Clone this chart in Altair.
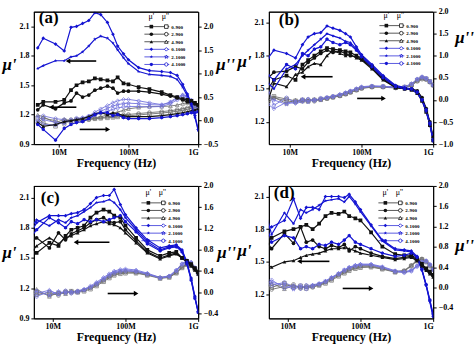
import altair as alt
import pandas as pd

SERIF = "Liberation Serif, Times New Roman, DejaVu Serif, serif"
FREQ_MHZ = [5, 6, 9, 12, 15, 18, 22, 27, 33, 40, 50, 60, 70, 85, 100, 140, 200, 300, 400, 500, 600, 700, 800, 900, 1000]
SERIES = ["0-900", "2-900", "4-900", "0-1000", "2-1000", "4-1000"]

# ---- panel (a) ----
A_MU1 = [
    [1.30, 1.33, 1.33, 1.35, 1.45, 1.50, 1.53, 1.54, 1.57, 1.56, 1.55, 1.54, 1.58, 1.52, 1.51, 1.48, 1.46, 1.43, 1.40, 1.38, 1.36, 1.35, 1.34, 1.32, 1.30],
    [1.25, 1.30, 1.26, 1.32, 1.34, 1.42, 1.38, 1.40, 1.45, 1.47, 1.49, 1.47, 1.42, 1.44, 1.44, 1.44, 1.43, 1.41, 1.39, 1.37, 1.35, 1.33, 1.32, 1.31, 1.30],
    [1.12, 1.08, 1.10, 1.13, 1.14, 1.15, 1.16, 1.18, 1.21, 1.22, 1.20, 1.22, 1.21, 1.19, 1.18, 1.18, 1.18, 1.19, 1.20, 1.21, 1.22, 1.23, 1.24, 1.25, 1.26],
    [1.88, 1.98, 1.92, 1.85, 2.09, 2.10, 2.13, 2.16, 2.24, 2.22, 2.14, 2.02, 1.90, 1.82, 1.76, 1.68, 1.65, 1.64, 1.63, 1.60, 1.51, 1.41, 1.31, 1.19, 1.05],
    [1.67, 1.70, 1.75, 1.75, 1.79, 1.80, 1.84, 1.90, 1.97, 2.00, 1.98, 1.93, 1.86, 1.78, 1.72, 1.64, 1.61, 1.60, 1.59, 1.56, 1.48, 1.39, 1.29, 1.17, 1.04],
    [1.10, 1.05, 0.94, 1.06, 1.10, 1.12, 1.13, 1.16, 1.20, 1.22, 1.22, 1.19, 1.20, 1.17, 1.16, 1.16, 1.16, 1.17, 1.18, 1.19, 1.20, 1.21, 1.22, 1.22, 1.23],
]
A_MU2 = [
    [0.05, -0.05, -0.12, 0.00, -0.02, 0.02, 0.00, 0.03, 0.04, 0.05, 0.06, 0.07, 0.08, 0.09, 0.10, 0.12, 0.14, 0.16, 0.18, 0.20, 0.22, 0.24, 0.26, 0.28, 0.30],
    [-0.05, 0.05, 0.00, -0.08, 0.02, -0.02, 0.03, 0.02, 0.05, 0.06, 0.08, 0.09, 0.10, 0.12, 0.13, 0.15, 0.17, 0.19, 0.21, 0.23, 0.25, 0.27, 0.29, 0.30, 0.32],
    [0.12, 0.08, -0.05, 0.03, 0.00, 0.04, 0.02, 0.05, 0.06, 0.08, 0.12, 0.15, 0.18, 0.22, 0.25, 0.28, 0.30, 0.30, 0.31, 0.33, 0.36, 0.38, 0.36, 0.32, 0.28],
    [0.00, -0.08, -0.10, -0.02, 0.00, 0.03, 0.05, 0.10, 0.18, 0.25, 0.32, 0.38, 0.42, 0.45, 0.45, 0.42, 0.38, 0.34, 0.38, 0.48, 0.53, 0.50, 0.42, 0.32, 0.22],
    [0.08, 0.02, -0.04, -0.06, 0.02, 0.00, 0.04, 0.08, 0.14, 0.20, 0.26, 0.31, 0.34, 0.36, 0.37, 0.36, 0.34, 0.33, 0.40, 0.50, 0.55, 0.52, 0.44, 0.34, 0.24],
    [-0.02, 0.10, 0.04, 0.02, -0.03, 0.05, 0.06, 0.09, 0.12, 0.16, 0.20, 0.24, 0.27, 0.29, 0.30, 0.30, 0.29, 0.30, 0.36, 0.44, 0.48, 0.46, 0.38, 0.30, 0.22],
]
# ---- panel (b) ----
B_MU1 = [
    [1.50, 1.58, 1.62, 1.58, 1.72, 1.76, 1.80, 1.84, 1.87, 1.86, 1.85, 1.84, 1.83, 1.80, 1.78, 1.70, 1.60, 1.52, 1.50, 1.49, 1.46, 1.39, 1.29, 1.17, 1.03],
    [1.60, 1.65, 1.66, 1.70, 1.68, 1.74, 1.78, 1.82, 1.85, 1.83, 1.84, 1.82, 1.80, 1.79, 1.77, 1.69, 1.59, 1.51, 1.50, 1.50, 1.48, 1.42, 1.32, 1.20, 1.06],
    [1.40, 1.55, 1.52, 1.63, 1.65, 1.70, 1.73, 1.72, 1.80, 1.85, 1.82, 1.80, 1.81, 1.78, 1.76, 1.68, 1.58, 1.51, 1.50, 1.50, 1.48, 1.41, 1.31, 1.19, 1.05],
    [1.78, 1.85, 1.82, 1.78, 1.90, 1.97, 2.00, 2.01, 2.07, 2.05, 2.03, 2.00, 1.97, 1.88, 1.81, 1.72, 1.62, 1.53, 1.51, 1.50, 1.47, 1.40, 1.30, 1.18, 1.03],
    [1.55, 1.50, 1.68, 1.72, 1.80, 1.85, 1.90, 1.95, 2.00, 1.98, 1.96, 1.93, 1.92, 1.86, 1.80, 1.71, 1.61, 1.52, 1.50, 1.49, 1.46, 1.39, 1.29, 1.17, 1.02],
    [1.62, 1.58, 1.72, 1.68, 1.82, 1.80, 1.86, 1.88, 1.95, 1.92, 1.90, 1.92, 1.90, 1.85, 1.79, 1.70, 1.60, 1.52, 1.50, 1.50, 1.47, 1.40, 1.31, 1.19, 1.04],
]
B_MU2 = [
    [0.05, 0.08, 0.02, -0.02, 0.00, -0.03, 0.00, 0.02, 0.04, 0.07, 0.10, 0.14, 0.18, 0.23, 0.27, 0.30, 0.30, 0.28, 0.29, 0.35, 0.45, 0.50, 0.48, 0.42, 0.34],
    [-0.05, 0.05, -0.02, -0.05, -0.01, 0.01, -0.03, 0.01, 0.03, 0.06, 0.09, 0.13, 0.17, 0.22, 0.26, 0.29, 0.29, 0.27, 0.28, 0.33, 0.42, 0.47, 0.46, 0.40, 0.33],
    [0.00, 0.06, -0.08, 0.00, -0.03, -0.02, 0.02, 0.00, 0.04, 0.06, 0.10, 0.14, 0.18, 0.23, 0.27, 0.30, 0.30, 0.28, 0.29, 0.34, 0.44, 0.49, 0.47, 0.41, 0.34],
    [-0.10, -0.20, -0.05, -0.08, -0.04, 0.00, -0.02, 0.03, 0.05, 0.09, 0.13, 0.17, 0.21, 0.26, 0.30, 0.32, 0.31, 0.29, 0.30, 0.37, 0.48, 0.53, 0.50, 0.43, 0.35],
    [0.15, 0.00, -0.10, -0.03, 0.02, -0.05, 0.01, 0.00, 0.06, 0.08, 0.12, 0.16, 0.20, 0.25, 0.29, 0.31, 0.30, 0.28, 0.29, 0.36, 0.47, 0.52, 0.49, 0.42, 0.34],
    [0.20, -0.12, 0.05, -0.06, -0.02, 0.02, -0.01, 0.04, 0.05, 0.07, 0.11, 0.15, 0.19, 0.24, 0.28, 0.31, 0.31, 0.29, 0.30, 0.36, 0.46, 0.51, 0.48, 0.41, 0.33],
]
# ---- panel (c) ----
C_MU1 = [
    [1.60, 1.55, 1.65, 1.62, 1.72, 1.78, 1.80, 1.82, 1.90, 1.95, 1.98, 1.96, 1.92, 1.90, 1.82, 1.70, 1.58, 1.52, 1.55, 1.56, 1.50, 1.47, 1.44, 1.40, 1.36],
    [1.65, 1.70, 1.60, 1.75, 1.68, 1.74, 1.77, 1.80, 1.85, 1.88, 1.90, 1.86, 1.85, 1.86, 1.78, 1.67, 1.56, 1.50, 1.53, 1.55, 1.50, 1.46, 1.43, 1.39, 1.35],
    [1.55, 1.62, 1.70, 1.64, 1.70, 1.72, 1.75, 1.78, 1.82, 1.84, 1.86, 1.84, 1.83, 1.80, 1.75, 1.65, 1.55, 1.49, 1.52, 1.54, 1.50, 1.46, 1.42, 1.38, 1.34],
    [1.75, 1.85, 1.92, 1.92, 1.92, 1.94, 1.95, 1.98, 2.04, 2.10, 2.12, 2.12, 2.18, 2.03, 1.93, 1.80, 1.68, 1.60, 1.62, 1.63, 1.58, 1.46, 1.30, 1.12, 0.97],
    [1.80, 1.88, 1.82, 1.88, 1.85, 1.90, 1.92, 1.96, 2.00, 2.05, 2.06, 2.08, 2.05, 1.98, 1.90, 1.78, 1.66, 1.58, 1.61, 1.62, 1.57, 1.45, 1.29, 1.11, 0.96],
    [1.70, 1.78, 1.90, 1.85, 1.80, 1.86, 1.84, 1.88, 1.86, 1.88, 1.86, 1.88, 1.90, 1.92, 1.86, 1.76, 1.64, 1.57, 1.60, 1.61, 1.56, 1.44, 1.28, 1.10, 0.96],
]
C_MU2 = [
    [0.02, 0.00, -0.05, -0.02, 0.00, 0.02, 0.00, 0.02, 0.06, 0.12, 0.20, 0.27, 0.32, 0.35, 0.36, 0.36, 0.32, 0.26, 0.28, 0.36, 0.46, 0.52, 0.50, 0.44, 0.38],
    [0.05, -0.05, 0.00, -0.06, 0.02, -0.01, 0.02, 0.04, 0.08, 0.14, 0.22, 0.29, 0.34, 0.37, 0.38, 0.37, 0.33, 0.27, 0.29, 0.37, 0.47, 0.53, 0.51, 0.45, 0.39],
    [-0.05, 0.06, -0.08, 0.00, -0.03, 0.03, 0.01, 0.05, 0.10, 0.16, 0.24, 0.31, 0.36, 0.39, 0.40, 0.39, 0.34, 0.28, 0.30, 0.38, 0.48, 0.54, 0.52, 0.46, 0.40],
    [0.08, -0.02, 0.04, -0.04, 0.01, 0.00, 0.03, 0.06, 0.12, 0.19, 0.28, 0.35, 0.40, 0.43, 0.44, 0.42, 0.36, 0.28, 0.31, 0.42, 0.54, 0.60, 0.57, 0.47, 0.36],
    [-0.08, 0.03, -0.06, 0.02, -0.02, 0.01, 0.02, 0.05, 0.10, 0.17, 0.26, 0.33, 0.38, 0.41, 0.42, 0.40, 0.35, 0.27, 0.30, 0.41, 0.53, 0.59, 0.56, 0.46, 0.35],
    [0.00, -0.08, 0.02, -0.03, 0.03, -0.02, 0.00, 0.04, 0.09, 0.15, 0.24, 0.31, 0.36, 0.39, 0.40, 0.39, 0.34, 0.27, 0.30, 0.40, 0.52, 0.58, 0.55, 0.45, 0.34],
]
# ---- panel (d) ----
D_MU1 = [
    [1.75, 1.72, 1.78, 1.80, 1.82, 1.84, 1.80, 1.85, 1.92, 1.95, 1.94, 1.96, 1.92, 1.90, 1.88, 1.77, 1.64, 1.57, 1.56, 1.56, 1.53, 1.48, 1.44, 1.41, 1.38],
    [1.70, 1.62, 1.76, 1.67, 1.82, 1.68, 1.70, 1.64, 1.62, 1.65, 1.63, 1.66, 1.60, 1.64, 1.62, 1.58, 1.55, 1.53, 1.54, 1.55, 1.52, 1.47, 1.43, 1.40, 1.37],
    [1.48, 1.45, 1.50, 1.51, 1.54, 1.56, 1.57, 1.58, 1.60, 1.62, 1.62, 1.63, 1.62, 1.60, 1.58, 1.56, 1.54, 1.52, 1.53, 1.54, 1.51, 1.46, 1.42, 1.39, 1.36],
    [1.82, 1.82, 1.88, 2.08, 1.90, 2.00, 2.00, 1.98, 2.10, 2.10, 2.10, 2.09, 2.12, 2.05, 1.98, 1.84, 1.70, 1.62, 1.61, 1.60, 1.55, 1.43, 1.29, 1.14, 1.00],
    [1.95, 1.75, 1.95, 1.85, 1.98, 1.95, 1.98, 2.02, 2.06, 2.07, 2.08, 2.05, 2.10, 2.03, 1.96, 1.83, 1.69, 1.61, 1.60, 1.59, 1.54, 1.42, 1.28, 1.13, 0.99],
    [1.85, 1.68, 1.74, 1.72, 1.62, 1.64, 1.62, 1.66, 1.65, 1.68, 1.66, 1.70, 1.74, 1.68, 1.66, 1.62, 1.58, 1.55, 1.56, 1.58, 1.54, 1.43, 1.29, 1.15, 1.02],
]
D_MU2 = [
    [0.05, 0.00, 0.08, 0.00, 0.03, -0.02, 0.02, 0.04, 0.08, 0.14, 0.22, 0.28, 0.33, 0.37, 0.39, 0.40, 0.36, 0.30, 0.32, 0.42, 0.52, 0.55, 0.50, 0.42, 0.36],
    [0.12, -0.04, 0.02, 0.06, -0.02, 0.03, 0.00, 0.05, 0.10, 0.16, 0.24, 0.30, 0.35, 0.39, 0.41, 0.41, 0.37, 0.31, 0.33, 0.43, 0.53, 0.56, 0.51, 0.43, 0.37],
    [-0.02, 0.08, -0.03, 0.03, 0.00, 0.01, 0.04, 0.06, 0.11, 0.18, 0.26, 0.32, 0.37, 0.41, 0.43, 0.43, 0.38, 0.31, 0.33, 0.44, 0.54, 0.57, 0.52, 0.44, 0.38],
    [0.08, 0.15, -0.02, 0.04, -0.03, 0.05, 0.03, 0.07, 0.12, 0.19, 0.27, 0.34, 0.39, 0.43, 0.45, 0.45, 0.40, 0.32, 0.30, 0.33, 0.42, 0.50, 0.52, 0.45, 0.35],
    [0.00, 0.10, 0.05, -0.04, 0.02, 0.00, 0.05, 0.08, 0.13, 0.20, 0.28, 0.35, 0.40, 0.44, 0.46, 0.46, 0.41, 0.33, 0.31, 0.34, 0.43, 0.51, 0.53, 0.46, 0.36],
    [0.18, 0.04, 0.10, 0.01, 0.04, -0.03, 0.02, 0.06, 0.11, 0.18, 0.26, 0.33, 0.38, 0.42, 0.44, 0.44, 0.39, 0.31, 0.29, 0.32, 0.41, 0.49, 0.51, 0.44, 0.34],
]

# arrows: start freq, end freq (Hz), mu' level, direction
A_ARROWS = ([13.6e6, 7.85e6, 20e6], [34.5e6, 17.9e6, 50.6e6], [1.747, 1.276, 1.05], ["left", "left", "right"])
B_ARROWS = ([15.3e6, 87e6], [39.5e6, 203e6], [1.609, 1.412], ["left", "right"])
C_ARROWS = ([20.9e6, 57e6], [60.2e6, 140e6], [1.656, 1.147], ["left", "right"])
D_ARROWS = ([14.5e6, 57e6], [37.4e6, 140e6], [1.504, 1.255], ["left", "right"])

STAR = "M0,-1L0.235,-0.324L0.951,-0.309L0.380,0.124L0.588,0.809L0,0.4L-0.588,0.809L-0.380,0.124L-0.951,-0.309L-0.235,-0.324Z"
HEX = "M0,-1L0.866,-0.5L0.866,0.5L0,1L-0.866,0.5L-0.866,-0.5Z"
SHAPES = ["square", "circle", "triangle-up", "diamond", STAR, HEX]
COL1 = ["#111111", "#111111", "#111111", "#1414d2", "#1414d2", "#1414d2"]
COL2 = ["#707070", "#707070", "#707070", "#7474dc", "#7474dc", "#7474dc"]
W, H = 165, 133


def to_long(values):
    rows = []
    for s, vals in zip(SERIES, values):
        for f, v in zip(FREQ_MHZ, vals):
            rows.append({"f": f * 1e6, "v": v, "s": s})
    return pd.DataFrame(rows)


def panel(mu1, mu2, xdom, yd1, yt1, yd2, yt2, label, lab_xy, leg_xy, arrows, t1y, t2x, t2y):
    xs = alt.Scale(type="log", domain=xdom, nice=False)
    xax = alt.Axis(values=[1e7, 1e8, 1e9],
                   labelExpr="datum.value < 5e7 ? '10M' : datum.value < 5e8 ? '100M' : '1G'",
                   title="Frequency (Hz)", titleFontSize=12, titlePadding=1,
                   labelFont=SERIF, titleFont=SERIF, labelFontWeight="bold", titleFontWeight="bold",
                   labelFontSize=8, tickSize=3, labelPadding=1, grid=False)

    def X(field):
        return alt.X(field, type="quantitative", scale=xs, axis=xax)

    y1s = alt.Scale(domain=yd1, nice=False, zero=False)
    y1ax = alt.Axis(values=yt1, format=".1f", title="μ'", titleAngle=0, titleX=-25, titleY=t1y,
                    titleAlign="center", titleBaseline="middle", titleFontSize=17,
                    labelFont=SERIF, titleFont=SERIF, labelFontWeight="bold", titleFontWeight="bold",
                    titleFontStyle="italic", labelFontSize=8, tickSize=3, labelPadding=2, grid=False)
    y2s = alt.Scale(domain=yd2, nice=False, zero=False)
    y2ax = alt.Axis(values=yt2, format=".1f", orient="right", title="μ''", titleAngle=0,
                    titleX=t2x, titleY=t2y, titleAlign="center", titleBaseline="middle",
                    labelFont=SERIF, titleFont=SERIF, labelFontWeight="bold", titleFontWeight="bold",
                    titleFontSize=17, titleFontStyle="italic", labelFontSize=8, tickSize=3,
                    labelPadding=2, grid=False)

    def Y1(field):
        return alt.Y(field, type="quantitative", scale=y1s, axis=y1ax)

    def Y2(field):
        return alt.Y(field, type="quantitative", scale=y2s, axis=y2ax)

    d1 = to_long(mu1)
    d2 = to_long(mu2)
    c1 = alt.Scale(domain=SERIES, range=COL1)
    c2 = alt.Scale(domain=SERIES, range=COL2)
    sh = alt.Scale(domain=SERIES, range=SHAPES)

    line1 = alt.Chart(d1).mark_line(strokeWidth=1.2, clip=True).encode(
        x=X("f"), y=Y1("v"), stroke=alt.Stroke("s:N", scale=c1, legend=None))
    pts1 = alt.Chart(d1).mark_point(filled=True, size=14, opacity=1, clip=True).encode(
        x=X("f"), y=Y1("v"),
        color=alt.Color("s:N", scale=c1, legend=None),
        shape=alt.Shape("s:N", scale=sh, legend=None))

    adf = pd.DataFrame({"f": arrows[0], "f2": arrows[1], "v": arrows[2], "d": arrows[3]})
    arr_line = alt.Chart(adf).mark_rule(color="black", strokeWidth=1.6).encode(
        x=X("f"), x2="f2", y=Y1("v"))
    arr_left = alt.Chart(adf).transform_filter("datum.d == 'left'").mark_point(
        shape="triangle-left", filled=True, color="black", size=28, opacity=1).encode(x=X("f"), y=Y1("v"))
    arr_right = alt.Chart(adf).transform_filter("datum.d == 'right'").mark_point(
        shape="triangle-right", filled=True, color="black", size=28, opacity=1).encode(x=X("f2"), y=Y1("v"))

    ltxt = alt.Chart(pd.DataFrame({"t": [label]})).mark_text(
        font=SERIF, fontSize=17, fontWeight="bold", align="left", baseline="middle", color="black").encode(
        x=alt.value(lab_xy[0]), y=alt.value(lab_xy[1]), text="t:N")

    top_edge = alt.Chart(pd.DataFrame({"t": [0]})).mark_rule(color="black", strokeWidth=1).encode(
        x=alt.value(0), x2=alt.value(W), y=alt.value(0.5))

    # in-plot key: filled (mu') and open (mu'') symbols with the series names
    lx, ly = leg_xy
    key = pd.DataFrame({"s": SERIES})
    key["py"] = [ly + i * 7.6 for i in range(len(SERIES))]
    key["xf"] = lx
    key["xo"] = lx + 15
    key["xa"] = lx - 7
    key["xb"] = lx + 18
    key["xt"] = lx + 20

    def PX(field):
        return alt.X(field, type="quantitative", scale=None)

    PY = alt.Y("py:Q", scale=None)
    key_seg = alt.Chart(key).mark_rule(strokeWidth=0.7).encode(
        x=PX("xa"), x2="xb", y=PY, color=alt.Color("s:N", scale=c1, legend=None))
    key_f = alt.Chart(key).mark_point(filled=True, size=13, opacity=1).encode(
        x=PX("xf"), y=PY, color=alt.Color("s:N", scale=c1, legend=None),
        shape=alt.Shape("s:N", scale=sh, legend=None))
    key_o = alt.Chart(key).mark_point(filled=False, size=13, opacity=1, strokeWidth=0.8).encode(
        x=PX("xo"), y=PY, fill=alt.value("white"), color=alt.Color("s:N", scale=c1, legend=None),
        shape=alt.Shape("s:N", scale=sh, legend=None))
    key_t = alt.Chart(key).mark_text(font=SERIF, fontSize=5, fontWeight="bold", align="left",
                                     baseline="middle", color="black").encode(
        x=PX("xt"), y=PY, text="s:N")
    hdr = pd.DataFrame({"t": ["μ'", "μ''"], "hx": [lx, lx + 14], "hy": [ly - 10, ly - 10]})
    key_h = alt.Chart(hdr).mark_text(font=SERIF, fontSize=8, align="center", baseline="middle",
                                     color="black").encode(
        x=PX("hx"), y=alt.Y("hy:Q", scale=None), text="t:N")

    g1 = alt.layer(line1, pts1, arr_line, arr_left, arr_right, ltxt, top_edge,
                   key_seg, key_o, key_f, key_t, key_h)

    line2 = alt.Chart(d2).mark_line(strokeWidth=0.9, clip=True).encode(
        x=X("f"), y=Y2("v"), stroke=alt.Stroke("s:N", scale=c2, legend=None))
    pts2 = alt.Chart(d2).mark_point(filled=False, size=14, opacity=1, strokeWidth=0.7, clip=True).encode(
        x=X("f"), y=Y2("v"),
        color=alt.Color("s:N", scale=c2, legend=None),
        shape=alt.Shape("s:N", scale=sh, legend=None))
    g2 = alt.layer(line2, pts2)

    return alt.layer(g2, g1).resolve_scale(
        y="independent", color="independent", shape="independent", stroke="independent"
    ).properties(width=W, height=H)


pa = panel(A_MU1, A_MU2, [4.4e6, 1e9], [0.9, 2.25], [0.9, 1.2, 1.5, 1.8, 2.1],
           [-0.5, 2.315], [-0.5, 0.0, 0.5, 1.0, 1.5, 2.0], "(a)", (5, 6), (118, 15), A_ARROWS, 53, 27, 53)
pb = panel(B_MU1, B_MU2, [5.1e6, 1e9], [0.997, 2.2], [1.2, 1.5, 1.8, 2.1],
           [-1.0, 2.0], [-1.0, -0.5, 0.0, 0.5, 1.0, 1.5, 2.0], "(b)", (10, 8), (118, 14), B_ARROWS, 50, 31, 26)
pc = panel(C_MU1, C_MU2, [5.5e6, 1e9], [0.9, 2.215], [0.9, 1.2, 1.5, 1.8, 2.1],
           [-0.49, 2.0], [-0.4, 0.0, 0.4, 0.8, 1.2, 1.6, 2.0], "(c)", (7, 12), (115, 17), C_ARROWS, 67, 28, 67)
pd_ = panel(D_MU1, D_MU2, [5.5e6, 1e9], [0.98, 2.197], [1.2, 1.5, 1.8, 2.1],
            [-0.61, 2.0], [-0.4, 0.0, 0.4, 0.8, 1.2, 1.6, 2.0], "(d)", (5, 7), (117, 17), D_ARROWS, 65, 31, 60)

chart = alt.concat(pa, pb, pc, pd_, columns=2).properties(
    bounds="flush", spacing={"row": 42, "column": 71},
    padding={"left": 1, "top": 6, "right": 0, "bottom": 0},
    background="white",
).resolve_scale(color="independent", shape="independent", stroke="independent").configure_view(
    stroke="black", strokeWidth=1
).configure_axis(
    domainColor="black", tickColor="black", labelColor="black", titleColor="black", domainWidth=1
)

chart.save("out.html", embed_options={"renderer": "svg", "actions": False})
